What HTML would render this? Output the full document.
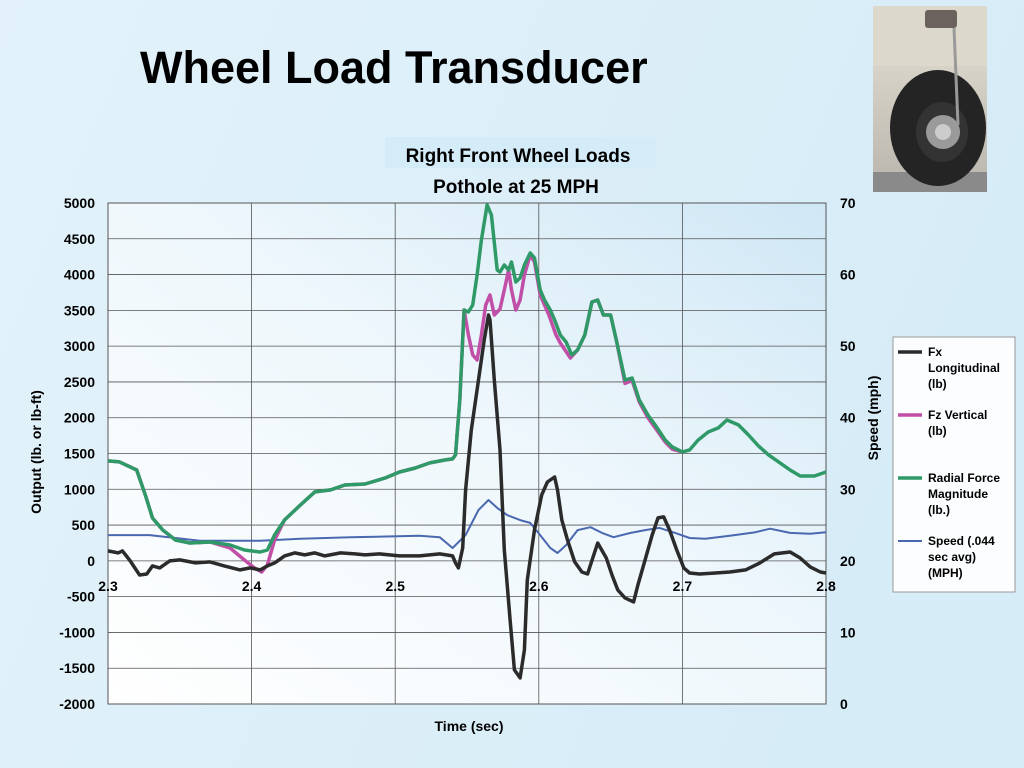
<!DOCTYPE html>
<html><head><meta charset="utf-8"><style>
html,body{margin:0;padding:0;width:1024px;height:768px;overflow:hidden;background:#dff0f9;font-family:"Liberation Sans",Arial,sans-serif}
svg text{font-family:"Liberation Sans",Arial,sans-serif;font-weight:bold}
</style></head><body>
<svg id="chart" width="1024" height="768" xmlns="http://www.w3.org/2000/svg">
<defs>
<linearGradient id="bg" x1="0" y1="0" x2="1" y2="0.3"><stop offset="0" stop-color="#e3f2fa"/><stop offset="1" stop-color="#d6ecf7"/></linearGradient>
<linearGradient id="plotbg" x1="0" y1="1" x2="1" y2="0"><stop offset="0" stop-color="#ffffff"/><stop offset="0.55" stop-color="#eef7fc"/><stop offset="1" stop-color="#cfe7f5"/></linearGradient>
<linearGradient id="photo" x1="0" y1="0" x2="0" y2="1"><stop offset="0" stop-color="#e6e1d6"/><stop offset="1" stop-color="#b9b5ac"/></linearGradient>
<clipPath id="photoclip"><rect x="873" y="6" width="114" height="186"/></clipPath>
</defs>
<rect width="1024" height="768" fill="url(#bg)"/>
<text x="140" y="83" font-size="45" fill="#000">Wheel Load Transducer</text>
<g clip-path="url(#photoclip)">
<rect x="873" y="6" width="114" height="186" fill="url(#photo)"/>
<rect x="873" y="6" width="114" height="60" fill="#ddd8cc"/>
<rect x="925" y="10" width="32" height="18" rx="3" fill="#6b625e"/>
<rect x="873" y="172" width="114" height="20" fill="#8a8a8a"/>
<ellipse cx="938" cy="128" rx="48" ry="58" fill="#242424"/>
<ellipse cx="942" cy="132" rx="26" ry="30" fill="#333"/>
<circle cx="943" cy="132" r="17" fill="#9a9a9a"/>
<circle cx="943" cy="132" r="8" fill="#ccc"/>
<line x1="954" y1="28" x2="958" y2="125" stroke="#999" stroke-width="3"/>
</g>
<rect x="385" y="137" width="271" height="31" fill="#d4ebf8"/>
<text x="518" y="162" font-size="19" text-anchor="middle">Right Front Wheel Loads</text>
<text x="516" y="193" font-size="19" text-anchor="middle">Pothole at 25 MPH</text>
<rect x="108" y="203" width="718" height="501" fill="url(#plotbg)"/>
<g id="grid"></g><g id="series"></g><g id="labels"></g>
<text x="469" y="731" font-size="14" text-anchor="middle">Time (sec)</text>
<text transform="translate(41,452) rotate(-90)" font-size="14" text-anchor="middle">Output (lb. or lb-ft)</text>
<text transform="translate(878,418) rotate(-90)" font-size="14" text-anchor="middle">Speed (mph)</text>
<g>
<rect x="893" y="337" width="122" height="255" fill="#fbfdfe" stroke="#999" stroke-width="1"/>
<g><line x1="898" y1="352" x2="922" y2="352" stroke="#2b2b2b" stroke-width="3.5"/>
<text x="928" y="356" font-size="12">Fx</text><text x="928" y="372" font-size="12">Longitudinal</text><text x="928" y="388" font-size="12">(lb)</text></g>
<g><line x1="898" y1="415" x2="922" y2="415" stroke="#c14fa8" stroke-width="3.5"/>
<text x="928" y="419" font-size="12">Fz Vertical</text><text x="928" y="435" font-size="12">(lb)</text></g>
<g><line x1="898" y1="478" x2="922" y2="478" stroke="#2f9a67" stroke-width="3.5"/>
<text x="928" y="482" font-size="12">Radial Force</text><text x="928" y="498" font-size="12">Magnitude</text><text x="928" y="514" font-size="12">(lb.)</text></g>
<g><line x1="898" y1="541" x2="922" y2="541" stroke="#4a68b0" stroke-width="2"/>
<text x="928" y="545" font-size="12">Speed (.044</text><text x="928" y="561" font-size="12">sec avg)</text><text x="928" y="577" font-size="12">(MPH)</text></g>
</g>
</svg>
<script>
const xTicks=[2.3,2.4,2.5,2.6,2.7,2.8];
const yTicks=[5000,4500,4000,3500,3000,2500,2000,1500,1000,500,0,-500,-1000,-1500,-2000];
const y2Ticks=[70,60,50,40,30,20,10,0];
const radialT=[2.300,2.308,2.320,2.326,2.331,2.338,2.347,2.357,2.371,2.385,2.395,2.406,2.411,2.416,2.423,2.434,2.444,2.455,2.465,2.479,2.493,2.503,2.514,2.524,2.535,2.540,2.542,2.545,2.548,2.551,2.554,2.557,2.560,2.564,2.567,2.571,2.573,2.576,2.579,2.581,2.584,2.587,2.590,2.594,2.597,2.601,2.604,2.608,2.611,2.615,2.619,2.623,2.627,2.632,2.637,2.641,2.645,2.650,2.654,2.660,2.665,2.670,2.676,2.681,2.688,2.693,2.700,2.705,2.711,2.718,2.725,2.731,2.739,2.746,2.753,2.760,2.767,2.775,2.782,2.792,2.800];
const radialV=[1396,1382,1270,921,599,432,292,250,264,222,152,124,152,362,572,781,963,991,1060,1074,1158,1242,1298,1368,1410,1424,1480,2248,3505,3477,3575,3994,4483,4972,4832,4064,4036,4134,4064,4176,3896,3952,4134,4301,4232,3785,3645,3505,3366,3156,3058,2877,2946,3156,3617,3645,3435,3435,3086,2527,2555,2248,2038,1899,1689,1591,1522,1550,1689,1801,1857,1968,1899,1759,1605,1480,1382,1270,1186,1186,1242];
const fzT=[2.300,2.308,2.320,2.326,2.331,2.338,2.347,2.357,2.371,2.385,2.395,2.402,2.407,2.411,2.416,2.423,2.434,2.444,2.455,2.465,2.479,2.493,2.503,2.514,2.524,2.535,2.540,2.542,2.545,2.548,2.551,2.554,2.557,2.560,2.563,2.566,2.569,2.573,2.576,2.579,2.581,2.584,2.587,2.590,2.594,2.597,2.601,2.607,2.612,2.615,2.622,2.627,2.632,2.637,2.641,2.645,2.650,2.654,2.660,2.665,2.670,2.676,2.681,2.688,2.693,2.700];
const fzV=[1396,1382,1270,921,599,432,292,250,264,180,12,-99,-155,-57,292,572,781,963,991,1060,1074,1158,1242,1298,1368,1410,1424,1480,2248,3505,3156,2877,2807,3156,3575,3715,3435,3519,3785,4064,3785,3505,3645,3994,4274,4176,3715,3435,3156,3044,2835,2946,3156,3617,3645,3435,3435,3086,2480,2520,2220,2000,1860,1660,1560,1522];
const fxT=[2.300,2.307,2.310,2.315,2.322,2.327,2.331,2.336,2.343,2.350,2.361,2.371,2.381,2.392,2.399,2.406,2.411,2.416,2.423,2.430,2.437,2.444,2.451,2.462,2.472,2.479,2.489,2.503,2.517,2.531,2.540,2.542,2.544,2.547,2.549,2.553,2.558,2.562,2.565,2.566,2.569,2.573,2.576,2.580,2.583,2.587,2.590,2.592,2.597,2.602,2.606,2.611,2.613,2.616,2.620,2.625,2.630,2.634,2.636,2.641,2.643,2.647,2.651,2.655,2.660,2.666,2.669,2.674,2.679,2.683,2.687,2.691,2.696,2.701,2.705,2.712,2.723,2.733,2.744,2.754,2.764,2.775,2.782,2.789,2.796,2.800];
const fxV=[139,111,139,13,-197,-183,-71,-99,0,13,-29,-15,-71,-127,-99,-127,-71,-29,69,111,83,111,69,111,97,83,97,69,69,97,69,-29,-99,181,991,1829,2527,3086,3435,3366,2527,1550,153,-825,-1524,-1636,-1245,-267,432,921,1102,1172,991,572,292,-15,-155,-183,-57,250,181,40,-197,-407,-518,-574,-337,13,362,600,614,432,153,-99,-169,-183,-169,-155,-127,-29,97,124,40,-85,-155,-169];
const speedT=[2.300,2.329,2.347,2.364,2.406,2.434,2.469,2.517,2.531,2.540,2.549,2.558,2.565,2.571,2.578,2.587,2.594,2.601,2.608,2.613,2.619,2.627,2.636,2.644,2.652,2.664,2.674,2.684,2.695,2.705,2.716,2.733,2.751,2.761,2.775,2.789,2.800];
const speedV=[23.6,23.6,23.2,22.8,22.8,23.1,23.3,23.5,23.3,21.8,23.6,27.1,28.5,27.4,26.4,25.7,25.3,23.6,21.8,21.1,22.2,24.3,24.7,23.9,23.3,23.9,24.3,24.6,23.9,23.2,23.1,23.5,24.0,24.5,23.9,23.8,24.0];

const L=108,R=826,T=203,B=704;
const xs=t=>L+(t-2.3)/0.5*(R-L);
const ys=v=>T+(5000-v)/7000*(B-T);
const ys2=v=>T+(70-v)/70*(B-T);
const NS='http://www.w3.org/2000/svg';
function mk(tag,attrs,parent){const e=document.createElementNS(NS,tag);for(const k in attrs)e.setAttribute(k,attrs[k]);parent.appendChild(e);return e;}
const grid=document.getElementById('grid'),labels=document.getElementById('labels'),series=document.getElementById('series');
yTicks.forEach(v=>{const l=mk('line',{x1:L,x2:R,y1:ys(v),y2:ys(v),stroke:'#555','stroke-width':0.8},grid);


const t=mk('text',{x:95,y:ys(v)+5,'font-size':14,'text-anchor':'end'},labels);t.textContent=v;

});
xTicks.forEach(v=>{const l=mk('line',{x1:xs(v),x2:xs(v),y1:T,y2:B,stroke:'#555','stroke-width':0.8},grid);


const t=mk('text',{x:xs(v),y:ys(0)+30,'font-size':14,'text-anchor':'middle'},labels);t.textContent=v.toFixed(1);

});
y2Ticks.forEach(v=>{const t=mk('text',{x:840,y:ys2(v)+5,'font-size':14},labels);t.textContent=v;

});
mk('rect',{x:L,y:T,width:R-L,height:B-T,fill:'none',stroke:'#555','stroke-width':1},grid);
function line(T_,V_,sy,color,w){return mk('polyline',{points:T_.map((t,i)=>xs(t).toFixed(1)+','+sy(V_[i]).toFixed(1)).join(' '),fill:'none',stroke:color,'stroke-width':w,'stroke-linejoin':'round'},series);}
const sp=line(speedT,speedV,ys2,'#4a68b0',2);


const fz=line(fzT,fzV,ys,'#c14fa8',3.5);


const rd=line(radialT,radialV,ys,'#2f9a67',3.5);


const fx=line(fxT,fxV,ys,'#2b2b2b',3.5);


</script>
</body></html>
